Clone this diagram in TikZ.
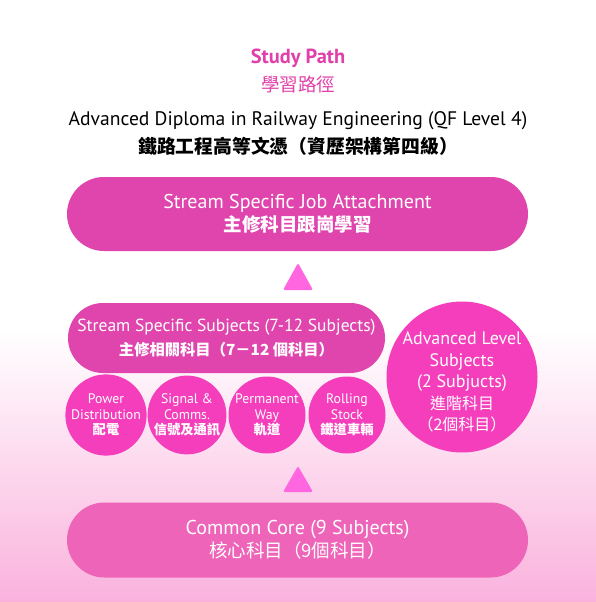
\documentclass[tikz,border=0pt]{standalone}
\usepackage{fontspec}
\setmainfont{PT Sans}
\newfontfamily\cjk{Noto Sans CJK TC}
\usetikzlibrary{shapes.misc}

\definecolor{pathpink}{HTML}{E13FAA}
\definecolor{pillpink}{HTML}{DF45AD}
\definecolor{dotpink}{HTML}{F43EBB}
\definecolor{arrowpink}{HTML}{FF66E0}
\definecolor{corepink}{HTML}{EE64B8}
\definecolor{bgpink}{HTML}{FAB2DD}

\begin{document}
\begin{tikzpicture}[x=1pt, y=-1pt,
    pill/.style={rounded rectangle, fill=pillpink, text=white, align=center, inner sep=0pt},
    subj/.style={circle, fill=dotpink, text=white, align=center, inner sep=0pt,
      minimum size=77pt, font=\fontsize{13.8}{15.5}\selectfont},
    uptri/.style={fill=arrowpink, rounded corners=2pt}]

    % background
    \useasboundingbox (0,0) rectangle (596,602);
    \fill[white] (0,0) rectangle (596,331);
    \shade[top color=white, bottom color=bgpink] (0,330) rectangle (596,602);

    % heading
    \node[text=pathpink, font=\bfseries\fontsize{20.4}{22}\selectfont] (path) at (298,58) {Study Path};
    \node[text=pathpink, font=\cjk\fontsize{18.5}{20}\selectfont] (pathcn) at (298,84) {學習路徑};
    \node[font=\fontsize{19.6}{22}\selectfont] (award) at (298,121) {Advanced Diploma in Railway Engineering (QF Level 4)};
    \node[font=\cjk\bfseries\fontsize{18.8}{20}\selectfont] (awardcn) at (298,146) {鐵路工程高等文憑（資歷架構第四級）};

    % pills
    \node[pill, minimum width=461pt, minimum height=74pt, font=\fontsize{20}{23}\selectfont]
      (job) at (297.5,214) {Stream Specific Job Attachment\\{\cjk\bfseries\fontsize{18.5}{23}\selectfont 主修科目跟崗學習}};
    \node[pill, minimum width=317pt, minimum height=70pt, font=\fontsize{17.5}{24}\selectfont]
      (stream) at (226.5,338) {Stream Specific Subjects (7-12 Subjects)\\{\cjk\bfseries\fontsize{15.3}{24}\selectfont 主修相關科目（7－12 個科目）}};
    \node[pill, fill=corepink, minimum width=461pt, minimum height=75pt, font=\fontsize{20}{23}\selectfont]
      (core) at (297.5,540) {Common Core (9 Subjects)\\{\cjk\fontsize{18.5}{23}\selectfont 核心科目（9個科目）}};

    % subjects
    \node[subj] (power) at (106,415) {Power\\Distribution\\{\cjk\bfseries\fontsize{13.3}{15.5}\selectfont 配電}};
    \node[subj] (signal) at (187,415) {Signal \&\\Comms.\\{\cjk\bfseries\fontsize{13.3}{15.5}\selectfont 信號及通訊}};
    \node[subj] (perm) at (267,415) {Permanent\\Way\\{\cjk\bfseries\fontsize{13.3}{15.5}\selectfont 軌道}};
    \node[subj] (stock) at (347,415) {Rolling\\Stock\\{\cjk\bfseries\fontsize{13.3}{15.5}\selectfont 鐵道車輛}};
    \node[subj, minimum size=151pt] (adv) at (462,377) {};
    \node[text=white, align=center, font=\fontsize{18}{21.5}\selectfont]
      (advtext) at (462,382) {Advanced Level\\Subjects\\(2 Subjucts)\\{\cjk\fontsize{16}{21.5}\selectfont 進階科目}\\{\cjk\fontsize{16}{21.5}\selectfont（2個科目）}};

    % arrows
    \fill[uptri] (283,290) -- (298,263) -- (313,290) -- cycle;
    \fill[uptri] (283,492) -- (298,466) -- (313,492) -- cycle;

\end{tikzpicture}
\end{document}
